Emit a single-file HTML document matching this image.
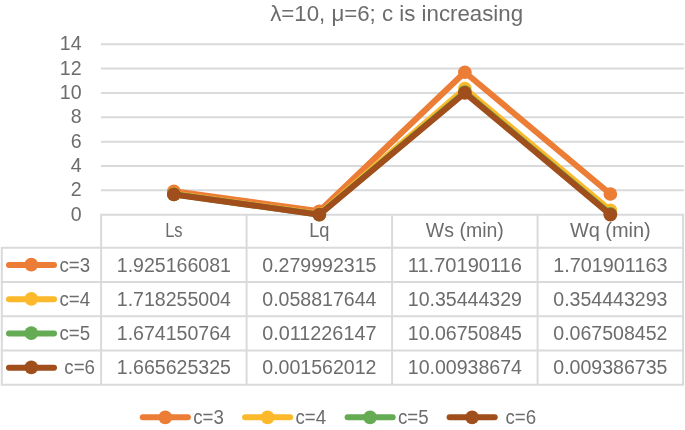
<!DOCTYPE html>
<html><head><meta charset="utf-8"><title>chart</title>
<style>html,body{margin:0;padding:0;background:#fff;overflow:hidden}svg{display:block}</style></head>
<body>
<svg width="685" height="430" viewBox="0 0 685 430" font-family="'Liberation Sans', sans-serif" font-size="19.3" fill="#6C6C6E">
<rect width="685" height="430" fill="#fff"/>
<g stroke="#D9DADC" stroke-width="2" fill="none">
<line x1="100.10" y1="214.70" x2="684.1" y2="214.70"/>
<line x1="100.90" y1="190.35" x2="684.1" y2="190.35"/>
<line x1="100.90" y1="166.00" x2="684.1" y2="166.00"/>
<line x1="100.90" y1="141.65" x2="684.1" y2="141.65"/>
<line x1="100.90" y1="117.30" x2="684.1" y2="117.30"/>
<line x1="100.90" y1="92.95" x2="684.1" y2="92.95"/>
<line x1="100.90" y1="68.60" x2="684.1" y2="68.60"/>
<line x1="100.90" y1="44.25" x2="684.1" y2="44.25"/>
<line x1="101.10" y1="214.7" x2="101.10" y2="384.83"/>
<line x1="246.60" y1="214.7" x2="246.60" y2="384.83"/>
<line x1="392.10" y1="214.7" x2="392.10" y2="384.83"/>
<line x1="537.60" y1="214.7" x2="537.60" y2="384.83"/>
<line x1="683.10" y1="214.7" x2="683.10" y2="384.83"/>
<line x1="1.8" y1="247.75" x2="1.8" y2="384.83"/>
<line x1="0.8" y1="247.75" x2="684.1" y2="247.75"/>
<line x1="0.8" y1="282.02" x2="684.1" y2="282.02"/>
<line x1="0.8" y1="316.29" x2="684.1" y2="316.29"/>
<line x1="0.8" y1="350.56" x2="684.1" y2="350.56"/>
<line x1="0.8" y1="384.83" x2="684.1" y2="384.83"/>
</g>
<text x="270.14" y="20.90" font-size="22.6" textLength="252.92" lengthAdjust="spacingAndGlyphs">λ=10, μ=6; c is increasing</text>
<text x="70.72" y="220.60" textLength="10.88" lengthAdjust="spacingAndGlyphs">0</text>
<text x="70.72" y="196.25" textLength="10.88" lengthAdjust="spacingAndGlyphs">2</text>
<text x="70.72" y="171.90" textLength="10.88" lengthAdjust="spacingAndGlyphs">4</text>
<text x="70.72" y="147.55" textLength="10.88" lengthAdjust="spacingAndGlyphs">6</text>
<text x="70.72" y="123.20" textLength="10.88" lengthAdjust="spacingAndGlyphs">8</text>
<text x="59.84" y="98.85" textLength="21.76" lengthAdjust="spacingAndGlyphs">10</text>
<text x="59.84" y="74.50" textLength="21.76" lengthAdjust="spacingAndGlyphs">12</text>
<text x="59.84" y="50.15" textLength="21.76" lengthAdjust="spacingAndGlyphs">14</text>
<text x="165.14" y="237.40" textLength="17.42" lengthAdjust="spacingAndGlyphs">Ls</text>
<text x="309.20" y="237.40" textLength="20.30" lengthAdjust="spacingAndGlyphs">Lq</text>
<text x="425.89" y="237.40" textLength="77.93" lengthAdjust="spacingAndGlyphs">Ws (min)</text>
<text x="569.94" y="237.40" textLength="80.82" lengthAdjust="spacingAndGlyphs">Wq (min)</text>
<polyline points="173.85,191.26 319.35,211.29 464.85,72.23 610.35,193.98" fill="none" stroke="#EC7D36" stroke-width="6" stroke-linejoin="round" stroke-linecap="round"/>
<circle cx="173.85" cy="191.26" r="6.85" fill="#EC7D36"/>
<circle cx="319.35" cy="211.29" r="6.85" fill="#EC7D36"/>
<circle cx="464.85" cy="72.23" r="6.85" fill="#EC7D36"/>
<circle cx="610.35" cy="193.98" r="6.85" fill="#EC7D36"/>
<polyline points="173.85,193.78 319.35,213.98 464.85,88.63 610.35,210.38" fill="none" stroke="#FCB92B" stroke-width="6" stroke-linejoin="round" stroke-linecap="round"/>
<circle cx="173.85" cy="193.78" r="6.85" fill="#FCB92B"/>
<circle cx="319.35" cy="213.98" r="6.85" fill="#FCB92B"/>
<circle cx="464.85" cy="88.63" r="6.85" fill="#FCB92B"/>
<circle cx="610.35" cy="210.38" r="6.85" fill="#FCB92B"/>
<polyline points="173.85,194.32 319.35,214.56 464.85,92.13 610.35,213.88" fill="none" stroke="#65AB53" stroke-width="6" stroke-linejoin="round" stroke-linecap="round"/>
<circle cx="173.85" cy="194.32" r="6.85" fill="#65AB53"/>
<circle cx="319.35" cy="214.56" r="6.85" fill="#65AB53"/>
<circle cx="464.85" cy="92.13" r="6.85" fill="#65AB53"/>
<circle cx="610.35" cy="213.88" r="6.85" fill="#65AB53"/>
<polyline points="173.85,194.42 319.35,214.68 464.85,92.84 610.35,214.59" fill="none" stroke="#A04E1B" stroke-width="6" stroke-linejoin="round" stroke-linecap="round"/>
<circle cx="173.85" cy="194.42" r="6.85" fill="#A04E1B"/>
<circle cx="319.35" cy="214.68" r="6.85" fill="#A04E1B"/>
<circle cx="464.85" cy="92.84" r="6.85" fill="#A04E1B"/>
<circle cx="610.35" cy="214.59" r="6.85" fill="#A04E1B"/>
<line x1="9" y1="264.88" x2="54" y2="264.88" stroke="#EC7D36" stroke-width="6" stroke-linecap="round"/>
<circle cx="31.3" cy="264.58" r="6.85" fill="#EC7D36"/>
<text x="59.40" y="271.63" textLength="30.64" lengthAdjust="spacingAndGlyphs">c=3</text>
<text x="116.76" y="271.63" textLength="114.19" lengthAdjust="spacingAndGlyphs">1.925166081</text>
<text x="262.26" y="271.63" textLength="114.19" lengthAdjust="spacingAndGlyphs">0.279992315</text>
<text x="407.76" y="271.63" textLength="114.19" lengthAdjust="spacingAndGlyphs">11.70190116</text>
<text x="553.26" y="271.63" textLength="114.19" lengthAdjust="spacingAndGlyphs">1.701901163</text>
<line x1="9" y1="299.15" x2="54" y2="299.15" stroke="#FCB92B" stroke-width="6" stroke-linecap="round"/>
<circle cx="31.3" cy="298.85" r="6.85" fill="#FCB92B"/>
<text x="59.40" y="305.90" textLength="30.64" lengthAdjust="spacingAndGlyphs">c=4</text>
<text x="116.76" y="305.90" textLength="114.19" lengthAdjust="spacingAndGlyphs">1.718255004</text>
<text x="262.26" y="305.90" textLength="114.19" lengthAdjust="spacingAndGlyphs">0.058817644</text>
<text x="407.76" y="305.90" textLength="114.19" lengthAdjust="spacingAndGlyphs">10.35444329</text>
<text x="553.26" y="305.90" textLength="114.19" lengthAdjust="spacingAndGlyphs">0.354443293</text>
<line x1="9" y1="333.43" x2="54" y2="333.43" stroke="#65AB53" stroke-width="6" stroke-linecap="round"/>
<circle cx="31.3" cy="333.12" r="6.85" fill="#65AB53"/>
<text x="59.40" y="340.18" textLength="30.64" lengthAdjust="spacingAndGlyphs">c=5</text>
<text x="116.76" y="340.18" textLength="114.19" lengthAdjust="spacingAndGlyphs">1.674150764</text>
<text x="262.26" y="340.18" textLength="114.19" lengthAdjust="spacingAndGlyphs">0.011226147</text>
<text x="407.76" y="340.18" textLength="114.19" lengthAdjust="spacingAndGlyphs">10.06750845</text>
<text x="553.26" y="340.18" textLength="114.19" lengthAdjust="spacingAndGlyphs">0.067508452</text>
<line x1="9" y1="367.69" x2="54" y2="367.69" stroke="#A04E1B" stroke-width="6" stroke-linecap="round"/>
<circle cx="31.3" cy="367.39" r="6.85" fill="#A04E1B"/>
<text x="64.30" y="374.44" textLength="30.64" lengthAdjust="spacingAndGlyphs">c=6</text>
<text x="116.76" y="374.44" textLength="114.19" lengthAdjust="spacingAndGlyphs">1.665625325</text>
<text x="262.26" y="374.44" textLength="114.19" lengthAdjust="spacingAndGlyphs">0.001562012</text>
<text x="407.76" y="374.44" textLength="114.19" lengthAdjust="spacingAndGlyphs">10.00938674</text>
<text x="553.26" y="374.44" textLength="114.19" lengthAdjust="spacingAndGlyphs">0.009386735</text>
<line x1="142.79999999999998" y1="417.3" x2="187.89999999999998" y2="417.3" stroke="#EC7D36" stroke-width="6" stroke-linecap="round"/>
<circle cx="165.29999999999998" cy="417.3" r="6.85" fill="#EC7D36"/>
<text x="193.20" y="423.50" textLength="30.64" lengthAdjust="spacingAndGlyphs">c=3</text>
<line x1="245.1" y1="417.3" x2="290.2" y2="417.3" stroke="#FCB92B" stroke-width="6" stroke-linecap="round"/>
<circle cx="267.6" cy="417.3" r="6.85" fill="#FCB92B"/>
<text x="295.50" y="423.50" textLength="30.64" lengthAdjust="spacingAndGlyphs">c=4</text>
<line x1="347.6" y1="417.3" x2="392.7" y2="417.3" stroke="#65AB53" stroke-width="6" stroke-linecap="round"/>
<circle cx="370.1" cy="417.3" r="6.85" fill="#65AB53"/>
<text x="398.00" y="423.50" textLength="30.64" lengthAdjust="spacingAndGlyphs">c=5</text>
<line x1="449.6" y1="417.3" x2="494.7" y2="417.3" stroke="#A04E1B" stroke-width="6" stroke-linecap="round"/>
<circle cx="472.1" cy="417.3" r="6.85" fill="#A04E1B"/>
<text x="505.40" y="423.50" textLength="30.64" lengthAdjust="spacingAndGlyphs">c=6</text>
</svg>
</body></html>
